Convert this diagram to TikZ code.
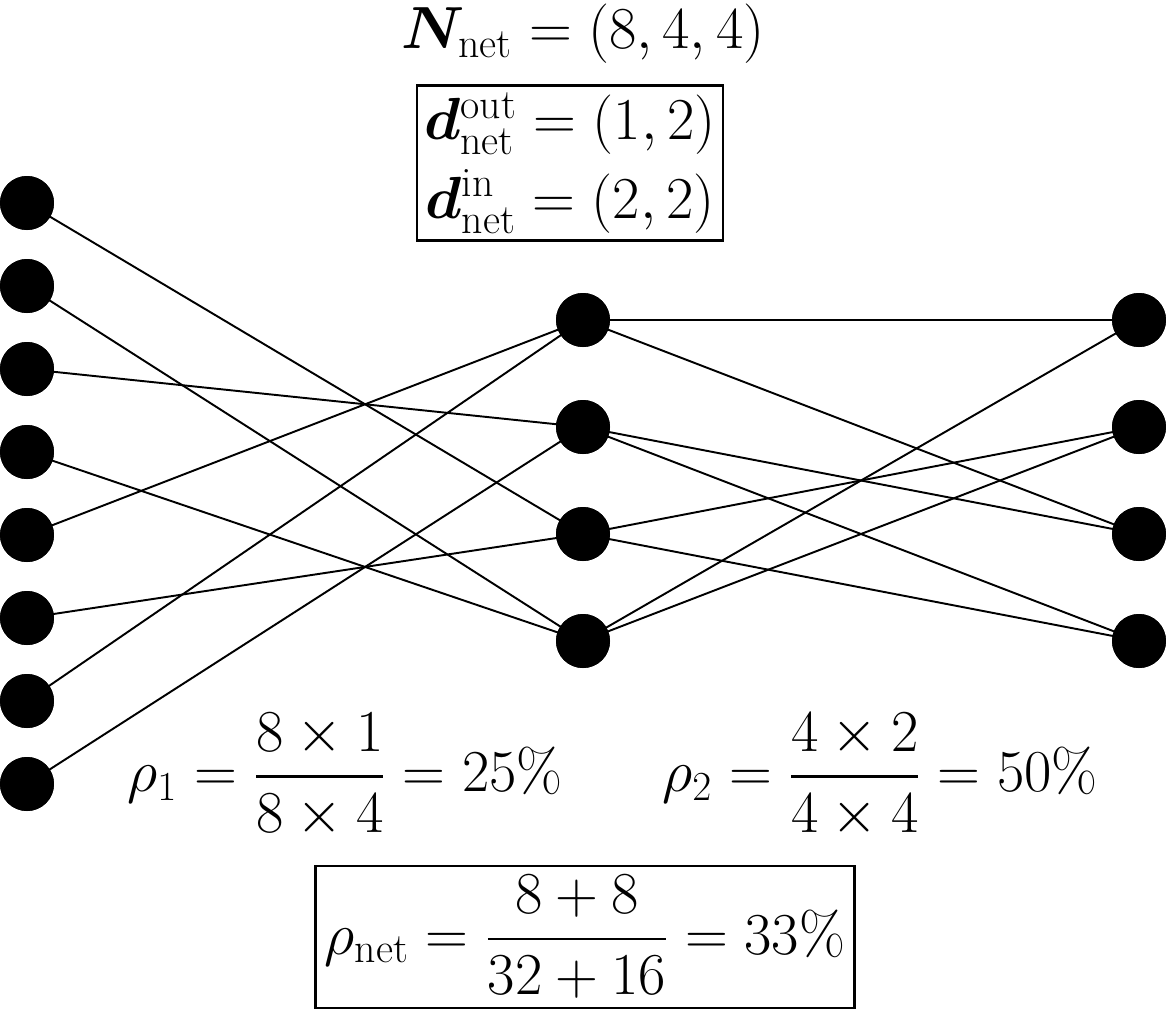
\documentclass[tikz,border=0pt]{standalone}
\usepackage{amsmath,bm}
\begin{document}
\begin{tikzpicture}[x=0.02cm,y=-0.02cm,
  nd/.style={circle,fill=black,minimum size=1.08cm,inner sep=0pt},
  ln/.style={line width=1.1pt},
  tx/.style={font=\fontsize{25}{30}\selectfont,scale=1.36,transform shape},
  bx/.style={draw,line width=1.5pt,inner sep=3pt}]
\useasboundingbox (0,0) rectangle (1166,1008);
\foreach \i/\y in {1/203,2/286,3/369,4/452,5/535,6/618,7/701,8/784}
  \node[nd] (L\i) at (27,\y) {};
\foreach \i/\y in {1/320,2/427,3/534,4/641}{
  \node[nd] (M\i) at (583,\y) {};
  \node[nd] (R\i) at (1139,\y) {};}
\foreach \a/\b in {1/3,2/4,3/2,4/4,5/1,6/3,7/1,8/2}
  \draw[ln] (L\a.center) -- (M\b.center);
\foreach \a/\b in {1/1,1/3,2/3,2/4,3/2,3/4,4/1,4/2}
  \draw[ln] (M\a.center) -- (R\b.center);
\foreach \i in {1,...,8} \node[nd] at (L\i) {};
\foreach \i in {1,...,4} {\node[nd] at (M\i) {}; \node[nd] at (R\i) {};}
\node[tx] (N) at (583,34) {$\bm{N}_{\text{net}}=(8,4,4)$};
\node[tx,bx,align=center] (D) at (570,163) {$\bm{d}^{\text{out}}_{\text{net}}=(1,2)$\\[3pt] $\bm{d}^{\text{in}}_{\text{net}}=(2,2)$};
\node[tx] (r1) at (345,775) {$\rho_1=\dfrac{8\times1}{8\times4}=25\%$};
\node[tx] (r2) at (880,775) {$\rho_2=\dfrac{4\times2}{4\times4}=50\%$};
\node[tx,bx,inner sep=4pt] (rn) at (585,937) {$\rho_{\text{net}}=\dfrac{8+8}{32+16}=33\%$};
\end{tikzpicture}
\end{document}
